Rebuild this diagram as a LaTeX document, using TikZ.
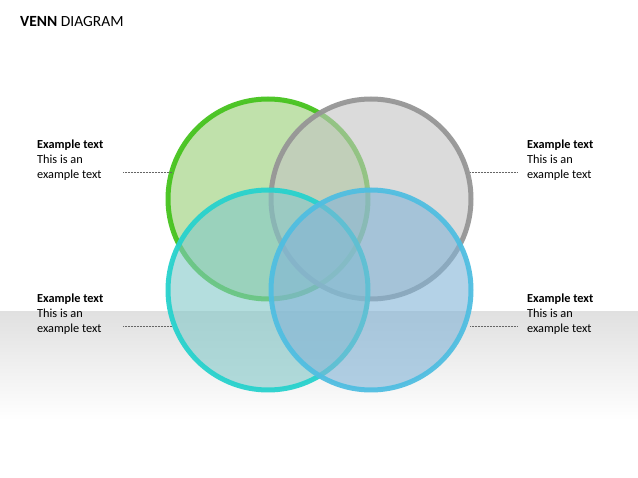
\documentclass[tikz,border=0pt]{standalone}
\usepackage{fontspec}
\setmainfont{Carlito}
\begin{document}
\begin{tikzpicture}[x=1pt,y=-1pt,
  ring/.style={line width=5pt, fill opacity=0.6, draw opacity=0.95},
  lbl/.style={anchor=north west, align=left, font=\fontsize{12.3}{15}\selectfont, inner sep=0pt},
  lead/.style={densely dotted, gray!80!black, line width=0.5pt}]
\useasboundingbox (0,0) rectangle (638,478);
\fill[white] (0,0) rectangle (638,478);
\shade[top color=black!12, bottom color=white] (0,312) rectangle (638,420);
\node[anchor=west, inner sep=0pt, font=\fontsize{15.5}{17}\selectfont] (title) at (20,22) {\textbf{VENN} DIAGRAM};
% circles
\draw[ring, draw={rgb,255:red,70;green,195;blue,30}, fill={rgb,255:red,150;green,205;blue,115}] (268,199) circle (100);
\node (gc) at (268,199) {};
\draw[ring, draw={rgb,255:red,150;green,150;blue,150}, fill={rgb,255:red,195;green,195;blue,195}] (371,199) circle (100);
\node (sc) at (371,199) {};
\draw[ring, draw={rgb,255:red,40;green,210;blue,205}, fill={rgb,255:red,130;green,200;blue,200}] (268,290) circle (100);
\node (tc) at (268,290) {};
\draw[ring, draw={rgb,255:red,80;green,190;blue,225}, fill={rgb,255:red,130;green,180;blue,215}] (371,290) circle (100);
\node (bc) at (371,290) {};
% labels
\node[lbl] (l1) at (37,140) {\textbf{Example text}\\This is an\\example text};
\node[lbl] (r1) at (527,140) {\textbf{Example text}\\This is an\\example text};
\node[lbl] (l2) at (37,294) {\textbf{Example text}\\This is an\\example text};
\node[lbl] (r2) at (527,294) {\textbf{Example text}\\This is an\\example text};
\coordinate (a1) at (123,172); \coordinate (a2) at (172,172);
\coordinate (b1) at (470,172); \coordinate (b2) at (518,172);
\coordinate (c1) at (123,326); \coordinate (c2) at (172,326);
\coordinate (d1) at (470,326); \coordinate (d2) at (518,326);
\draw[lead] (a1) -- (a2);
\draw[lead] (b1) -- (b2);
\draw[lead] (c1) -- (c2);
\draw[lead] (d1) -- (d2);
\end{tikzpicture}
\end{document}
